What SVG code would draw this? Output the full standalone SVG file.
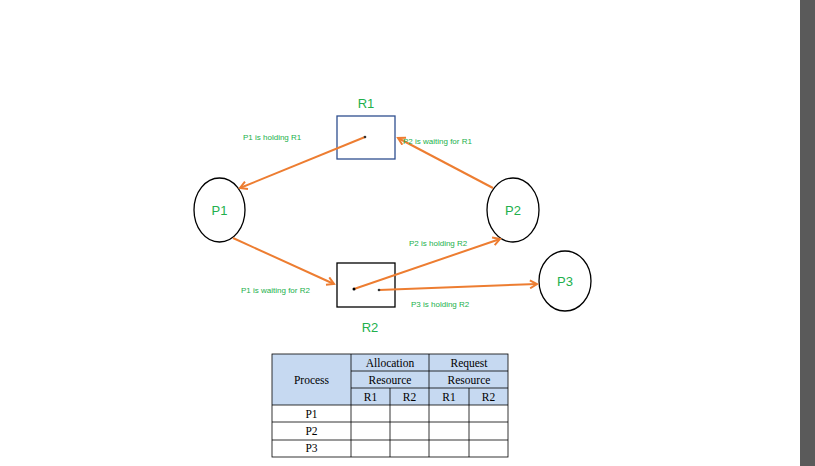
<svg xmlns="http://www.w3.org/2000/svg" width="815" height="466" viewBox="0 0 815 466">
<style>
.lbl{font-family:"Liberation Sans",Arial,sans-serif;font-size:8px;fill:#22b04c}
.big{font-family:"Liberation Sans",Arial,sans-serif;font-size:13px;fill:#22b04c;text-anchor:middle}
.node{fill:#fff;stroke:#000;stroke-width:1.3}
.e{stroke:#ed7d31;stroke-width:2;fill:none;marker-end:url(#a)}
.t{font-family:"Liberation Serif","Times New Roman",serif;font-size:11.5px;text-anchor:middle;fill:#000}
.c{fill:none;stroke:#000;stroke-width:0.8}
</style>
<defs><marker id="a" markerWidth="10" markerHeight="10" refX="8" refY="5" orient="auto" markerUnits="userSpaceOnUse"><path d="M1,1 L8,5 L1,9" fill="none" stroke="#ed7d31" stroke-width="2"/></marker></defs>
<rect width="815" height="466" fill="#fff"/>
<rect x="800" y="0" width="15" height="466" fill="#5a5a5a"/>
<g id="R1"><rect x="337" y="116" width="58" height="43" fill="#fff" stroke="#2f4f8f" stroke-width="1.3"/><text class="big" x="366" y="108">R1</text></g>
<g id="R2"><rect x="337" y="263" width="58" height="44" class="node"/><text class="big" x="370" y="332">R2</text></g>
<g id="P1"><ellipse cx="219.5" cy="210" rx="25.5" ry="32" class="node"/><text class="big" x="219.5" y="215">P1</text></g>
<g id="P2"><ellipse cx="513" cy="210" rx="26" ry="32" class="node"/><text class="big" x="513" y="215">P2</text></g>
<g id="P3"><ellipse cx="565" cy="281" rx="26" ry="30" class="node"/><text class="big" x="565" y="286">P3</text></g>
<g id="connectors">
<line class="e" x1="365" y1="137" x2="240" y2="188"/>
<line class="e" x1="493" y1="188" x2="398" y2="138"/>
<line class="e" x1="233" y1="238" x2="334" y2="284"/>
<line class="e" x1="354" y1="289" x2="500" y2="239"/>
<line class="e" x1="379" y1="290" x2="537" y2="284"/>
<circle cx="365" cy="137" r="1.3" fill="#333"/>
<circle cx="354" cy="289" r="1.5" fill="#000"/>
<circle cx="379" cy="290" r="1.3" fill="#333"/>
</g>
<g id="labels">
<text class="lbl" x="243" y="140">P1 is holding R1</text>
<text class="lbl" x="403" y="144">P2 is waiting for R1</text>
<text class="lbl" x="409" y="246">P2 is holding R2</text>
<text class="lbl" x="241" y="293">P1 is waiting for R2</text>
<text class="lbl" x="411" y="307">P3 is holding R2</text>
</g>
<g id="table">
<rect x="272" y="354" width="236" height="51" fill="#c6d9f1"/>
<rect x="272" y="354" width="236" height="103" class="c"/>
<path class="c" d="M351,354V457 M429,354V457 M390,388V457 M469,388V457 M351,371H508 M351,388H508 M272,405H508 M272,422H508 M272,440H508"/>
<text class="t" x="311.5" y="384">Process</text>
<text class="t" x="390" y="367">Allocation</text>
<text class="t" x="469" y="367">Request</text>
<text class="t" x="390" y="384">Resource</text>
<text class="t" x="469" y="384">Resource</text>
<text class="t" x="370.5" y="401">R1</text>
<text class="t" x="409.5" y="401">R2</text>
<text class="t" x="449" y="401">R1</text>
<text class="t" x="488.5" y="401">R2</text>
<text class="t" x="311.5" y="418">P1</text>
<text class="t" x="311.5" y="435">P2</text>
<text class="t" x="311.5" y="452">P3</text>
</g>
</svg>
